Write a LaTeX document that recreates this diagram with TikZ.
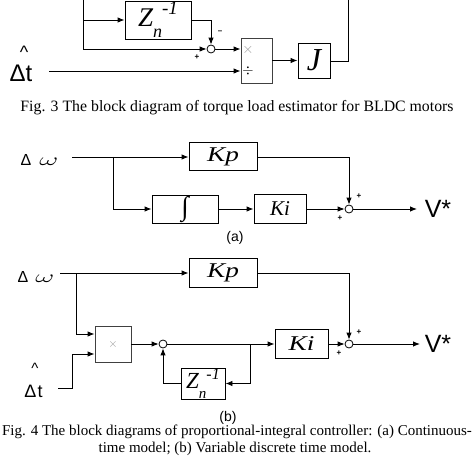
\documentclass[tikz,border=0pt]{standalone}
\usepackage{fontspec}
\setmainfont{Liberation Serif}
\setsansfont{Liberation Sans}
\usetikzlibrary{arrows.meta}
\newcommand{\zinv}[4]{{\itshape\fontsize{#1}{#1}\selectfont Z}{\itshape\fontsize{#2}{#2}\selectfont\raisebox{-0.62em}{n}}{\itshape\fontsize{#3}{#3}\selectfont\raisebox{#4}{-1}}}
\begin{document}
\begin{tikzpicture}[x=1pt,y=-1pt,
  every path/.style={line width=0.9pt},
  blk/.style={draw,line width=0.9pt,inner sep=0pt,anchor=center},
  sumc/.style={draw,circle,line width=0.8pt,minimum size=8pt,inner sep=0pt},
  arr/.style={-{Latex[length=7pt,width=5.5pt]}},
  sgn/.style={font=\sffamily\fontsize{8}{8}\selectfont\bfseries,inner sep=0pt},
  ttl/.style={font=\fontsize{15}{15}\selectfont,inner sep=0pt},
  itx/.style={font=\itshape\fontsize{21}{21}\selectfont},
  hatc/.style={font=\sffamily\fontsize{18}{18}\selectfont,inner sep=0pt},
  omg/.style={inner sep=0pt}
]
\useasboundingbox (0,0) rectangle (474,465);
% ---------- Fig. 3 fragment ----------
\coordinate (tl1) at (83,0);
\coordinate (tl2) at (83,49);
\coordinate (tlm) at (83,20);
\node[blk,minimum width=66pt,minimum height=38pt] (zA) at (158,20) {\zinv{27}{18}{19}{0.62em}};
\node[sumc] (sA) at (211,49) {};
\node[blk,draw=black!75,minimum width=31pt,minimum height=45pt] (mA) at (256.5,60.5) {};
\node[text=black!40,font=\fontsize{15}{15}\selectfont] (mulA) at (248,50) {$\times$};
\node[font=\fontsize{14}{14}\selectfont] (divA) at (248,71) {$\div$};
\node[blk,minimum width=32pt,minimum height=35pt] (jA) at (314,60.5)
  {\itshape\fontsize{32}{32}\selectfont J};
\coordinate (jo) at (348,61);
\coordinate (jt) at (348,0);
\node[font=\sffamily\fontsize{24}{24}\selectfont,inner sep=0pt] (dtA) at (21,73) {Δt};
\node[hatc] (hatA) at (24,52) {\^{}};
\coordinate (dtAin) at (49,71);
\coordinate (zAo) at (211,20);
\draw[arr] (tl1) -- (tlm) -- (zA.west);
\draw[arr] (tlm) -- (tl2) -- (sA.west);
\draw[arr] (zA.east) -- (zAo) -- (sA.north);
\draw[arr] (sA.east) -- (mA.west |- sA);
\draw[arr] (dtAin) -- (mA.west |- dtAin);
\draw[arr] (mA.east |- jA) -- (jA.west);
\draw (jA.east |- jo) -- (jo) -- (jt);
\node[sgn] (mnA) at (220,32) {\textendash};
\node[sgn] (plA) at (197,57) {+};
\node[ttl,font=\fontsize{15.8}{16}\selectfont] (cap3) at (237,108) {Fig. 3 The block diagram of torque load estimator for BLDC motors};
% ---------- Fig. 4 (a) ----------
\node[omg] (wa) at (39.5,160) {{\sffamily\fontsize{16}{16}\selectfont Δ}\hspace{8pt}\scalebox{1.7}[1]{\fontsize{17}{17}\selectfont$\omega$}};
\coordinate (ina) at (72,157);
\coordinate (bra) at (113,157);
\coordinate (bra2) at (113,209);
\node[blk,itx,minimum width=68pt,minimum height=28pt] (kpa) at (223,156.5) {\scalebox{1.3}[1]{Kp}};
\node[blk,minimum width=66pt,minimum height=28pt] (inta) at (185,209)
  {\fontsize{27}{27}\selectfont ∫};
\node[blk,itx,minimum width=52pt,minimum height=29pt] (kia) at (280,209) {Ki};
\node[sumc] (sa) at (349,209) {};
\coordinate (ka) at (349,157);
\coordinate (oa) at (417,209);
\node[font=\sffamily\fontsize{25}{25}\selectfont,inner sep=0pt] (va) at (438,209) {V*};
\draw[arr] (ina) -- (kpa.west |- ina);
\draw[arr] (bra) -- (bra2) -- (inta.west);
\draw[arr] (inta.east) -- (kia.west);
\draw[arr] (kia.east) -- (sa.west);
\draw[arr] (kpa.east |- ka) -- (ka) -- (sa.north);
\draw[arr] (sa.east) -- (oa);
\node[sgn] (pa1) at (359,196) {+};
\node[sgn] (pa2) at (340,218) {+};
\node[font=\sffamily\fontsize{14}{14}\selectfont,inner sep=0pt] (laba) at (235,238) {(a)};
% ---------- Fig. 4 (b) ----------
\node[omg] (wb) at (36,277) {{\sffamily\fontsize{16}{16}\selectfont Δ}\hspace{7pt}\scalebox{1.7}[1]{\fontsize{17}{17}\selectfont$\omega$}};
\coordinate (inb) at (60,273);
\coordinate (brb) at (76,273);
\coordinate (brb2) at (76,334);
\node[blk,itx,minimum width=68pt,minimum height=29pt] (kpb) at (223,272.5) {\scalebox{1.3}[1]{Kp}};
\node[blk,draw=black!75,minimum width=36pt,minimum height=36pt] (mb) at (113,344)
  {\color{black!40}\fontsize{13}{13}\selectfont$\times$};
\coordinate (dtbin) at (58,388);
\coordinate (dtb1) at (72,388);
\coordinate (dtb2) at (72,354);
\node[font=\sffamily\fontsize{18}{18}\selectfont,inner sep=0pt] (dtb) at (33.5,391) {Δ\hspace{1pt}t};
\node[hatc,font=\sffamily\fontsize{15}{15}\selectfont] (hatb) at (35,368) {\^{}};
\node[sumc] (sb1) at (163,344) {};
\node[blk,itx,minimum width=53pt,minimum height=29pt] (kib) at (301.5,344) {\scalebox{1.3}[1]{Ki}};
\node[blk,minimum width=44pt,minimum height=31pt] (zb) at (203,383.5) {\zinv{23}{15}{16}{0.6em}};
\coordinate (brz) at (250,344);
\coordinate (brz2) at (250,383.5);
\coordinate (zl) at (163,383.5);
\node[sumc] (sb2) at (349,344) {};
\coordinate (kb) at (349,273);
\coordinate (ob) at (420,344);
\node[font=\sffamily\fontsize{25}{25}\selectfont,inner sep=0pt] (vb) at (438,344) {V*};
\draw[arr] (inb) -- (kpb.west |- inb);
\draw[arr] (brb) -- (brb2) -- (mb.west |- brb2);
\draw[arr] (dtbin) -- (dtb1) -- (dtb2) -- (mb.west |- dtb2);
\draw[arr] (mb.east) -- (sb1.west);
\draw[arr] (sb1.east) -- (kib.west);
\draw[arr] (brz) -- (brz2) -- (zb.east);
\draw[arr] (zb.west) -- (zl) -- (sb1.south);
\draw[arr] (kpb.east |- kb) -- (kb) -- (sb2.north);
\draw[arr] (kib.east) -- (sb2.west);
\draw[arr] (sb2.east) -- (ob);
\node[sgn] (pb1) at (359,332) {+};
\node[sgn] (pb2) at (339,353) {+};
\node[font=\sffamily\fontsize{14}{14}\selectfont,inner sep=0pt] (labb) at (228,418) {(b)};
\node[ttl] (cap4a) at (237,432) {Fig. 4 The block diagrams of proportional-integral controller: (a) Continuous-};
\node[ttl] (cap4b) at (235,449) {time model; (b) Variable discrete time model.};
\end{tikzpicture}
\end{document}
